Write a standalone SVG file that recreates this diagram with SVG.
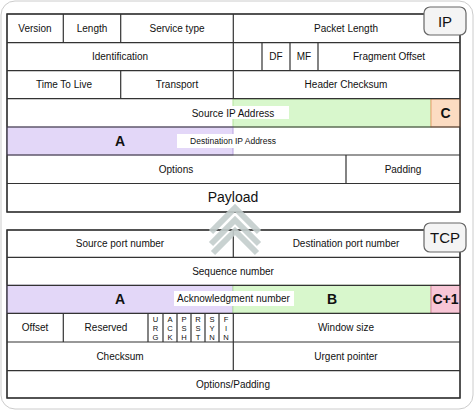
<svg xmlns="http://www.w3.org/2000/svg" width="474" height="410" viewBox="0 0 474 410">
<style>
text{font-family:"Liberation Sans",Arial,sans-serif;fill:#111;text-anchor:middle}
.t{font-size:10px}
.s{font-size:8.5px}
.f{font-size:7.6px}
.b{font-size:14px;font-weight:bold}
.h{font-size:15px}
.cell{fill:#fff;stroke:#333;stroke-width:1.2}
.ln{stroke:#333;stroke-width:1.2;fill:none}
.pur{fill:#e3d7f8;stroke:#b9a3e0;stroke-width:1}
.grn{fill:#d8f7cc;stroke:#b4e49c;stroke-width:1}
.org{fill:#fcdcc2;stroke:#e8a06a;stroke-width:1}
.pnk{fill:#f8c6d6;stroke:#d8809c;stroke-width:1}
.lbl{fill:#fff;stroke:none}
.tag{fill:#f4f4f4;stroke:#666;stroke-width:1.2}
.chev{fill:none;stroke:#c3cdcc;stroke-width:6;opacity:0.9}
</style>
<rect x="0" y="0" width="474" height="410" fill="#fff"/>
<rect x="1" y="1" width="472" height="408" rx="14" fill="none" stroke="#ccc" stroke-width="1"/>

<g id="ip">
  <rect class="cell" x="7" y="14" width="453" height="198"/>
  <g id="ip-row4">
    <rect class="grn" x="233" y="99" width="198" height="28"/>
    <rect class="org" x="431" y="99" width="29" height="28"/>
    <rect class="lbl" x="178" y="106" width="111" height="13"/>
    <text class="t" x="233" y="116.5">Source IP Address</text>
    <text class="b" x="445.5" y="118">C</text>
  </g>
  <g id="ip-row5">
    <rect class="pur" x="7" y="127" width="226" height="28"/>
    <text class="b" x="120" y="146">A</text>
    <rect class="lbl" x="177" y="134" width="112" height="14"/>
    <text class="s" x="233" y="144">Destination IP Address</text>
  </g>
  <g id="ip-lines">
    <path class="ln" d="M7 42.7H460M7 70.7H460M7 98.7H460M7 127H460M7 155H460M7 183.5H460"/>
    <path class="ln" d="M63.3 14V42.7M120.7 14V42.7M120.7 70.7V98.7M233.3 14V98.7M262 42.7V70.7M290 42.7V70.7M318 42.7V70.7M346 155V183.5"/>
    <rect class="ln" x="7" y="14" width="453" height="198"/>
  </g>
  <text class="t" x="35" y="32">Version</text>
  <text class="t" x="92" y="32">Length</text>
  <text class="t" x="177" y="32">Service type</text>
  <text class="t" x="346" y="32">Packet Length</text>
  <text class="t" x="120" y="60">Identification</text>
  <text class="t" x="276" y="60">DF</text>
  <text class="t" x="304" y="60">MF</text>
  <text class="t" x="389" y="60">Fragment Offset</text>
  <text class="t" x="64" y="88">Time To Live</text>
  <text class="t" x="177" y="88">Transport</text>
  <text class="t" x="346" y="88">Header Checksum</text>
  <text class="t" x="176" y="173">Options</text>
  <text class="t" x="403" y="173">Padding</text>
  <text x="233" y="202" style="font-size:14px">Payload</text>
</g>

<g id="tcp">
  <rect class="cell" x="7" y="230" width="453" height="168"/>
  <g id="tcp-row3">
    <rect class="pur" x="7" y="285.3" width="226" height="28"/>
    <rect class="grn" x="233" y="285.3" width="198" height="28"/>
    <rect class="pnk" x="431" y="285.3" width="29" height="28"/>
    <text class="b" x="120" y="304">A</text>
    <text class="b" x="332" y="304">B</text>
    <text class="b" x="445.5" y="304">C+1</text>
    <rect class="lbl" x="174" y="291" width="120" height="15"/>
    <text class="t" x="233.5" y="302">Acknowledgment number</text>
  </g>
  <g id="tcp-lines">
    <path class="ln" d="M7 257.3H460M7 285.3H460M7 313.3H460M7 342H460M7 370.7H460"/>
    <path class="ln" d="M233.3 230V257.3M63.3 313.3V342M148 313.3V342M163 313.3V342M177 313.3V342M191 313.3V342M205 313.3V342M219 313.3V342M233.3 313.3V370.7"/>
    <rect class="ln" x="7" y="230" width="453" height="168"/>
  </g>
  <text class="t" x="120" y="247">Source port number</text>
  <text class="t" x="346" y="247">Destination port number</text>
  <text class="t" x="233" y="275">Sequence number</text>
  <text class="t" x="35" y="331">Offset</text>
  <text class="t" x="106" y="331">Reserved</text>
  <g id="flags">
    <text class="f" x="155.5" y="321.5">U</text><text class="f" x="155.5" y="330.5">R</text><text class="f" x="155.5" y="339.5">G</text>
    <text class="f" x="170" y="321.5">A</text><text class="f" x="170" y="330.5">C</text><text class="f" x="170" y="339.5">K</text>
    <text class="f" x="184" y="321.5">P</text><text class="f" x="184" y="330.5">S</text><text class="f" x="184" y="339.5">H</text>
    <text class="f" x="198" y="321.5">R</text><text class="f" x="198" y="330.5">S</text><text class="f" x="198" y="339.5">T</text>
    <text class="f" x="212" y="321.5">S</text><text class="f" x="212" y="330.5">Y</text><text class="f" x="212" y="339.5">N</text>
    <text class="f" x="226" y="321.5">F</text><text class="f" x="226" y="330.5">I</text><text class="f" x="226" y="339.5">N</text>
  </g>
  <text class="t" x="346" y="331">Window size</text>
  <text class="t" x="120" y="360">Checksum</text>
  <text class="t" x="346" y="360">Urgent pointer</text>
  <text class="t" x="233" y="388">Options/Padding</text>
</g>

<g id="connectors">
  <polyline class="chev" points="211,232 235,208 259,232"/>
  <polyline class="chev" points="211,244 235,220 259,244"/>
  <polyline class="chev" points="213,253 235,231 257,253"/>
</g>

<g id="tag-ip">
  <rect class="tag" x="424" y="7" width="42" height="28" rx="6"/>
  <text class="h" x="445" y="26.5">IP</text>
</g>
<g id="tag-tcp">
  <rect class="tag" x="424" y="223" width="42" height="29" rx="6"/>
  <text class="h" x="445" y="243">TCP</text>
</g>
</svg>
